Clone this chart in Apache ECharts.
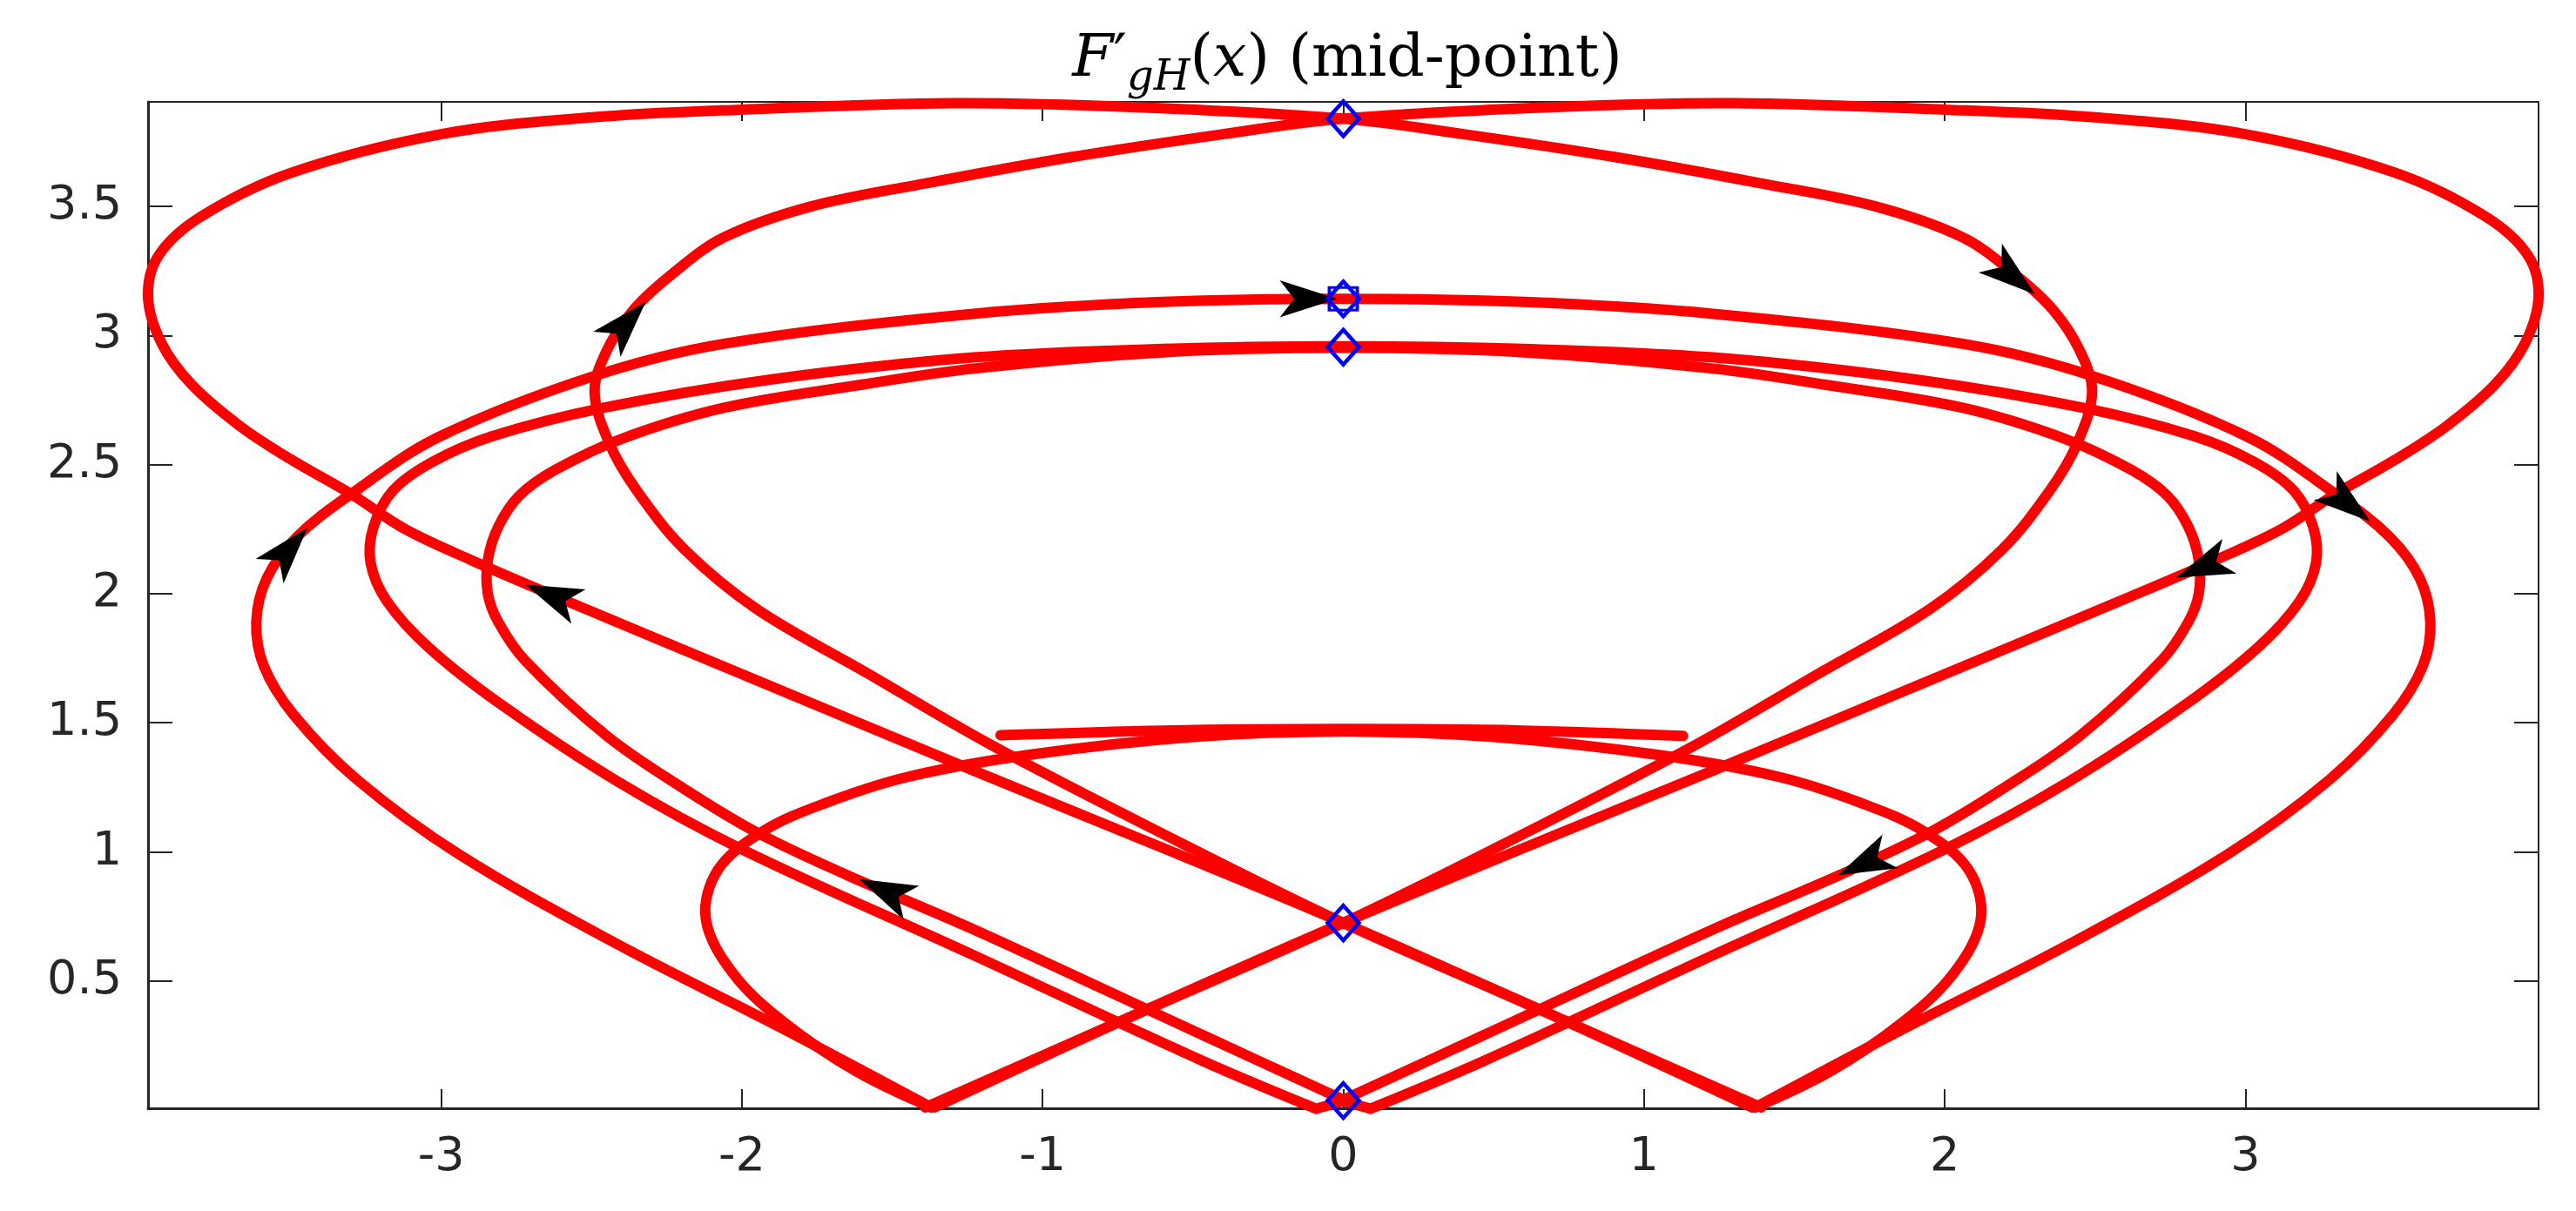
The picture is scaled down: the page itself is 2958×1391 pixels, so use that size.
<!DOCTYPE html>
<html>
<head>
<meta charset="utf-8">
<script src="https://cdn.jsdelivr.net/npm/echarts@6/dist/echarts.min.js"></script>
<style>
html,body{margin:0;padding:0;background:#ffffff;}
#chart{width:2958px;height:1391px;}
</style>
</head>
<body>
<div id="chart"></div>
<script>
// ---- tick labels ----
const xTicks = [-3, -2, -1, 0, 1, 2, 3];
const yTicks = [0.5, 1, 1.5, 2, 2.5, 3, 3.5];

// ---- trajectories [x, F'(x)] ----
// outer-left branch, top-left, crossing at top centre, inner right arc
const curveOuterLeftInnerRight = [
  [1.39,0.01],[0.7,0.365],[0,0.725],[-0.6,1.015],[-1.24,1.32],[-1.9,1.64],[-2.62,1.99],
  [-2.90,2.13],[-3.12,2.25],[-3.30,2.386],[-3.50,2.52],[-3.67,2.65],[-3.83,2.81],
  [-3.93,2.97],[-3.975,3.15],[-3.94,3.31],[-3.80,3.46],[-3.50,3.63],[-3.0,3.78],
  [-2.5,3.845],[-2.0,3.875],[-1.3,3.90],[-0.7,3.885],[0,3.84],[0.4,3.78],[0.91,3.69],
  [1.385,3.59],[1.77,3.50],[2.06,3.38],[2.23,3.24],[2.36,3.10],[2.45,2.94],[2.49,2.78],
  [2.44,2.58],[2.35,2.40],[2.19,2.17],[1.95,1.94],[1.58,1.69],[1.18,1.42],[0.6,1.07],
  [0,0.725],[-0.7,0.365],[-1.39,0.01]
];
// outer-right branch, top-right, crossing at top centre, inner left arc
const curveOuterRightInnerLeft = [
  [-1.36,0.01],[-0.7,0.365],[0,0.725],[0.6,1.015],[1.24,1.32],[1.9,1.64],[2.62,1.99],
  [2.90,2.13],[3.12,2.25],[3.30,2.386],[3.50,2.52],[3.67,2.65],[3.83,2.81],
  [3.93,2.97],[3.975,3.15],[3.94,3.31],[3.80,3.46],[3.50,3.63],[3.0,3.78],
  [2.5,3.845],[2.0,3.875],[1.3,3.90],[0.7,3.885],[0,3.84],[-0.4,3.78],[-0.91,3.69],
  [-1.385,3.59],[-1.77,3.50],[-2.06,3.38],[-2.23,3.24],[-2.36,3.10],[-2.45,2.94],[-2.49,2.78],
  [-2.44,2.58],[-2.35,2.40],[-2.19,2.17],[-1.95,1.94],[-1.58,1.69],[-1.18,1.42],[-0.6,1.07],
  [0,0.725],[0.7,0.365],[1.36,0.01]
];
// outer lower bulges joined through the arrow at (0, 3.14)
const curveMidTop = [
  [-1.37,0.01],[-1.88,0.325],[-2.41,0.64],[-2.94,0.99],[-3.28,1.28],[-3.49,1.53],
  [-3.59,1.72],[-3.615,1.89],[-3.58,2.06],[-3.48,2.22],[-3.30,2.386],[-3.01,2.606],
  [-2.50,2.84],[-2.06,2.968],[-1.23,3.084],[-0.6,3.13],[0,3.142],[0.6,3.13],[1.23,3.084],
  [2.06,2.968],[2.50,2.84],[3.01,2.606],[3.30,2.386],[3.48,2.22],[3.58,2.06],[3.615,1.89],
  [3.59,1.72],[3.49,1.53],[3.28,1.28],[2.94,0.99],[2.41,0.64],[1.88,0.325],[1.37,0.01]
];
// loop through (0, 2.96) with the wider side bulges
const curveLoopOuter = [
  [0.09,0.005],[0.467,0.19],[1.23,0.60],[2.0,1.01],[2.41,1.27],[2.80,1.57],[3.04,1.79],
  [3.18,1.97],[3.235,2.12],[3.225,2.26],[3.16,2.40],[3.03,2.51],[2.83,2.61],[2.46,2.72],
  [1.9,2.83],[1.23,2.915],[0.6,2.948],[0,2.958],[-0.6,2.948],[-1.23,2.915],[-1.9,2.83],
  [-2.46,2.72],[-2.83,2.61],[-3.03,2.51],[-3.16,2.40],[-3.225,2.26],[-3.235,2.12],
  [-3.18,1.97],[-3.04,1.79],[-2.80,1.57],[-2.41,1.27],[-2.0,1.01],[-1.23,0.60],
  [-0.467,0.19],[-0.09,0.005]
];
// loop through (0, 2.96) with the narrower side bulges
const curveLoopInner = [
  [0,0.04],[0.467,0.29],[1.23,0.70],[1.65,0.91],[1.95,1.075],[2.2,1.25],[2.45,1.45],
  [2.72,1.74],[2.81,1.89],[2.845,2.0],[2.845,2.13],[2.81,2.26],[2.74,2.38],[2.62,2.48],
  [2.40,2.60],[2.06,2.72],[1.6,2.81],[1.23,2.872],[0.6,2.935],[0,2.952],[-0.6,2.935],
  [-1.23,2.872],[-1.6,2.81],[-2.06,2.72],[-2.40,2.60],[-2.62,2.48],[-2.74,2.38],
  [-2.81,2.26],[-2.845,2.13],[-2.845,2.0],[-2.81,1.89],[-2.72,1.74],[-2.45,1.45],
  [-2.2,1.25],[-1.95,1.075],[-1.65,0.91],[-1.23,0.70],[-0.467,0.29],[0,0.04]
];
// lower central loop
const curveLowerLoop = [
  [-1.37,0.01],[-1.62,0.15],[-1.86,0.34],[-2.03,0.53],[-2.12,0.74],[-2.08,0.93],
  [-1.93,1.08],[-1.72,1.19],[-1.45,1.29],[-1.05,1.375],[-0.5,1.445],[0,1.466],[0.5,1.445],
  [1.05,1.375],[1.45,1.29],[1.72,1.19],[1.93,1.08],[2.08,0.93],[2.12,0.74],[2.03,0.53],
  [1.86,0.34],[1.62,0.15],[1.37,0.01]
];
// short open arc near 1.47
const curveShortArc = [[-1.14,1.452],[-0.6,1.47],[0,1.476],[0.6,1.47],[1.13,1.449]];
// small notch at the bottom centre
const curveNotch = [[-0.09,0.005],[0,0.035],[0.09,0.005]];

// arrowheads: [tipX, tipY, dirX, dirY] (direction of travel in data units)
const arrowHeads = [
  [-0.02,3.142,1,0],
  [-2.32,3.13,0.13,0.165],
  [-3.445,2.255,0.12,0.16],
  [-2.72,2.035,-1,0.48],
  [-1.61,0.895,-1,0.53],
  [2.30,3.16,0.26,-0.245],
  [3.415,2.28,0.19,-0.176],
  [2.77,2.062,-1,-0.47],
  [1.645,0.91,-1,-0.53]
];
// blue markers
const diamondPoints = [[0,3.84],[0,3.142],[0,2.955],[0,0.725],[0,0.037]];
const squarePoints = [[0,3.142]];

const curves = [curveOuterLeftInnerRight, curveOuterRightInnerLeft, curveMidTop,
  curveLoopOuter, curveLoopInner, curveLowerLoop, curveShortArc, curveNotch];

const chart = echarts.init(document.getElementById('chart'), null, {renderer:'canvas', width:2958, height:1391});
const axisColor = '#262626';
const labelFont = 'DejaVu Sans';

function curveSeries(points){
  const smoothness = (points === curveNotch) ? 0 : 0.35;
  return {
    type:'custom', coordinateSystem:'cartesian2d', xAxisIndex:0, yAxisIndex:0,
    data:points, encode:{x:0, y:1}, silent:true, z:2, clip:false,
    renderItem:function(params, api){
      if (params.dataIndex !== 0) return null;
      const pts = points.map(p => api.coord(p));
      return {
        type:'polyline',
        shape:{points:pts, smooth:smoothness},
        style:{stroke:'#ff0000', lineWidth:12, fill:'none', lineCap:'round', lineJoin:'round'}
      };
    }
  };
}

const titleRich = {
  it:{fontFamily:'DejaVu Serif', fontStyle:'italic', fontWeight:'normal', fontSize:68, lineHeight:92, color:'#000', verticalAlign:'middle'},
  pr:{fontFamily:'DejaVu Serif', fontWeight:'normal', fontSize:68, lineHeight:92, color:'#000', verticalAlign:'middle'},
  sub:{fontFamily:'DejaVu Serif', fontStyle:'italic', fontWeight:'normal', fontSize:48, lineHeight:48, color:'#000', verticalAlign:'bottom'},
  rm:{fontFamily:'DejaVu Serif', fontWeight:'normal', fontSize:68, lineHeight:92, color:'#000', verticalAlign:'middle'}
};

const option = {
  animation:false,
  backgroundColor:'#ffffff',
  title:{
    text:'{it|F}{pr|′}{sub|gH}{rm|(}{it|x}{rm|) (mid-point)}',
    left:1542, top:18, textAlign:'center',
    textStyle:{fontWeight:'normal', fontFamily:'DejaVu Serif', rich:titleRich}
  },
  grid:{left:170, right:43, top:117, bottom:118, containLabel:false},
  xAxis:[{
    type:'value', min:-3.975, max:3.975, position:'bottom',
    axisLine:{show:true, onZero:false, lineStyle:{color:axisColor, width:3}},
    axisTick:{show:true, inside:true, length:22, customValues:xTicks, lineStyle:{color:axisColor, width:2}},
    axisLabel:{show:true, customValues:xTicks, margin:30, fontSize:54, fontFamily:labelFont, color:axisColor},
    splitLine:{show:false}
  },{
    type:'value', min:-3.975, max:3.975, position:'top',
    axisLine:{show:true, onZero:false, lineStyle:{color:axisColor, width:2}},
    axisTick:{show:true, inside:true, length:22, customValues:xTicks, lineStyle:{color:axisColor, width:2}},
    axisLabel:{show:false}, splitLine:{show:false}
  }],
  yAxis:[{
    type:'value', min:0.007, max:3.905, position:'left',
    axisLine:{show:true, onZero:false, lineStyle:{color:axisColor, width:3}},
    axisTick:{show:true, inside:true, length:28, customValues:yTicks, lineStyle:{color:axisColor, width:2}},
    axisLabel:{show:true, customValues:yTicks, margin:30, fontSize:54, fontFamily:labelFont, color:axisColor},
    splitLine:{show:false}
  },{
    type:'value', min:0.007, max:3.905, position:'right',
    axisLine:{show:true, onZero:false, lineStyle:{color:axisColor, width:2}},
    axisTick:{show:true, inside:true, length:28, customValues:yTicks, lineStyle:{color:axisColor, width:2}},
    axisLabel:{show:false}, splitLine:{show:false}
  }],
  series: curves.map(curveSeries).concat([
    {id:'arrows', type:'scatter', data:arrowHeads.map(a=>[a[0],a[1]]), symbol:'arrow', symbolSize:[32,66],
     itemStyle:{color:'#000000', opacity:1}, z:5, silent:true},
    {type:'scatter', data:diamondPoints, symbol:'diamond', symbolSize:[36,40],
     itemStyle:{color:'rgba(0,0,0,0)', borderColor:'#0000ff', borderWidth:4.5, opacity:1}, z:6, silent:true},
    {type:'scatter', data:squarePoints, symbol:'rect', symbolSize:[32,26],
     itemStyle:{color:'rgba(0,0,0,0)', borderColor:'#0000ff', borderWidth:3.5, opacity:1}, z:6, silent:true}
  ])
};
chart.setOption(option);

// orient arrowheads along the direction of travel in screen space
const rotated = arrowHeads.map(a => {
  const p0 = chart.convertToPixel({xAxisIndex:0, yAxisIndex:0}, [a[0], a[1]]);
  const p1 = chart.convertToPixel({xAxisIndex:0, yAxisIndex:0}, [a[0] + a[2]*0.05, a[1] + a[3]*0.05]);
  const tx = p1[0] - p0[0], ty = p1[1] - p0[1];
  const deg = Math.atan2(-tx, -ty) * 180 / Math.PI;
  return {value:[a[0], a[1]], symbolRotate:deg};
});
chart.setOption({series:[{id:'arrows', data:rotated}]});
</script>
</body>
</html>
